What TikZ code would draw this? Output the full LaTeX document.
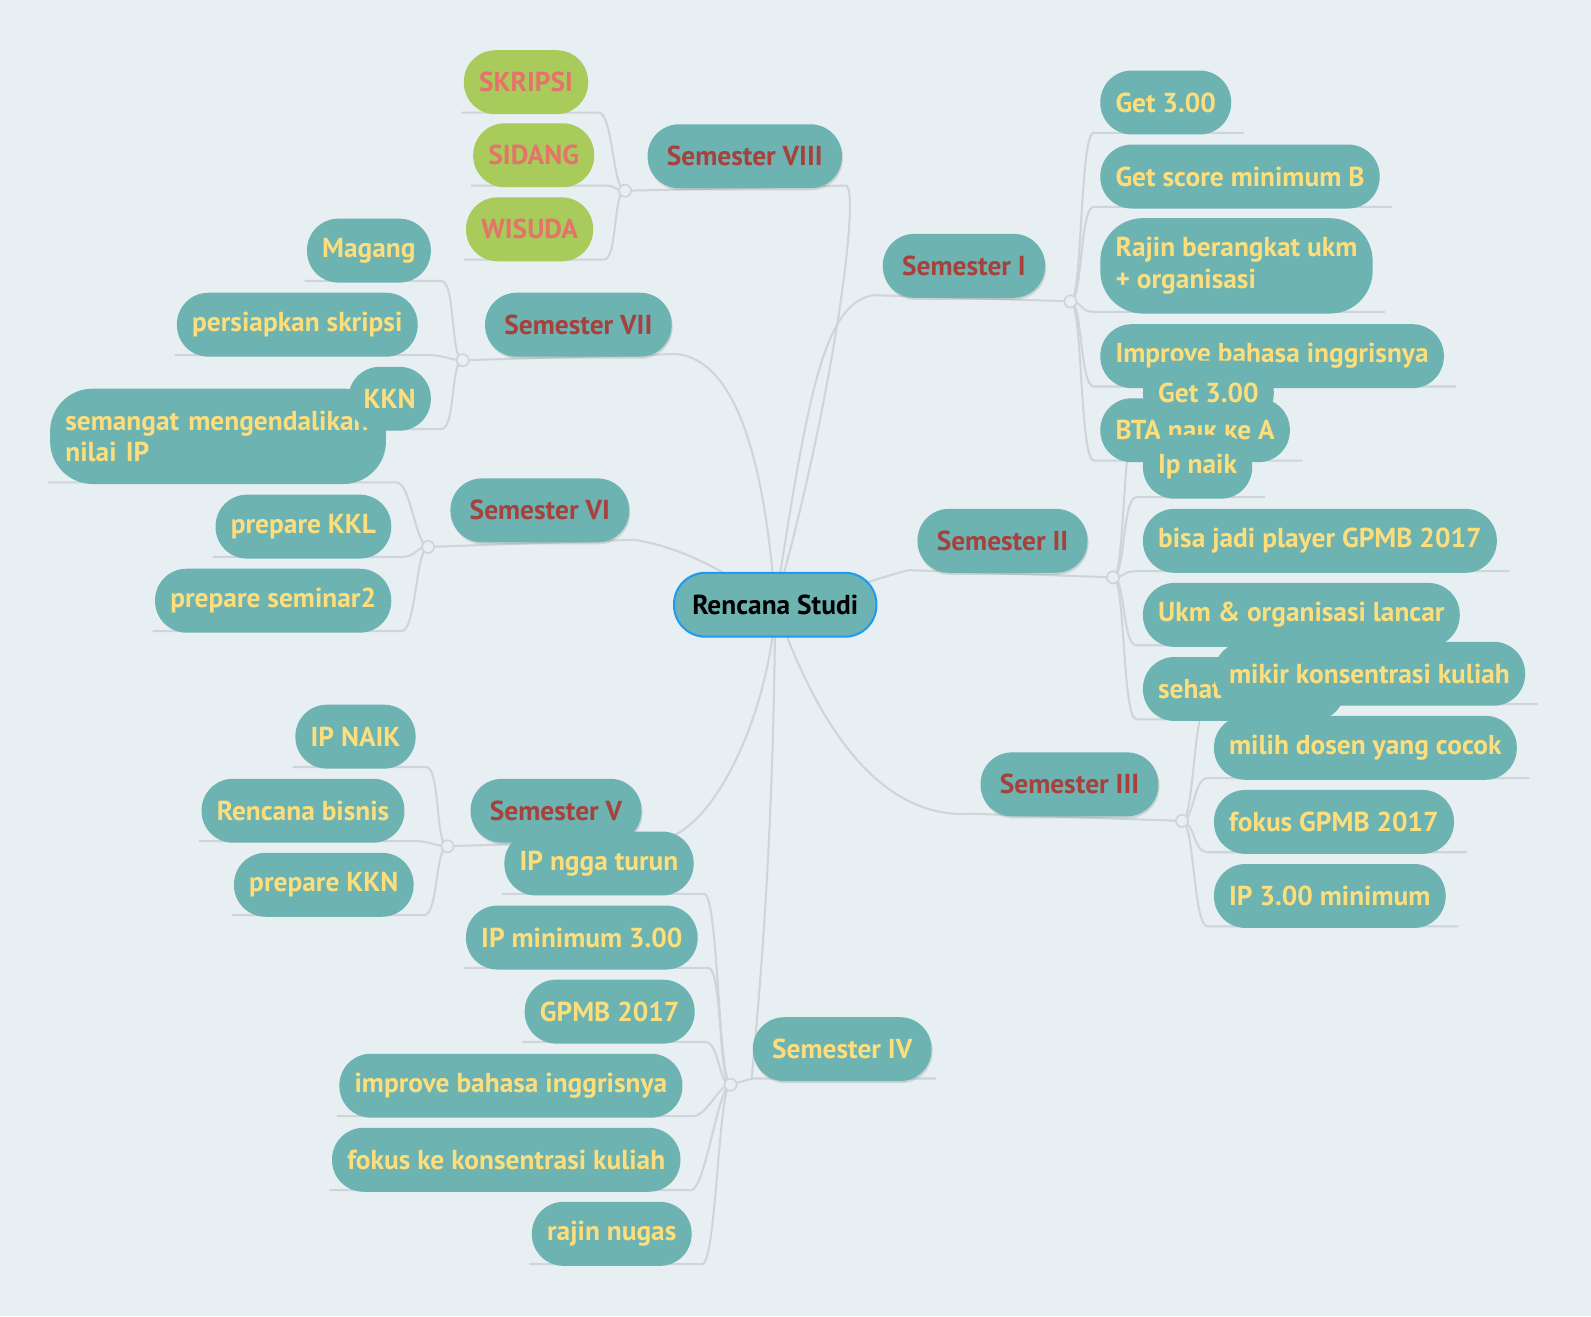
\documentclass[tikz,border=0pt]{standalone}
\usepackage{fontspec}
\setmainfont{PT Sans}
\usepackage{tikz}
\usetikzlibrary{shadows}

\definecolor{bgcol}{RGB}{231,239,242}
\definecolor{nodeteal}{RGB}{108,179,178}
\definecolor{leafyel}{RGB}{253,222,125}
\definecolor{semred}{RGB}{166,65,59}
\definecolor{leafgreen}{RGB}{168,203,92}
\definecolor{pinktext}{RGB}{230,114,108}
\definecolor{linegray}{RGB}{206,212,216}
\definecolor{rootblue}{RGB}{30,155,240}

\pgfdeclarelayer{back}
\pgfdeclarelayer{lines}
\pgfsetlayers{back,lines,main}

\begin{document}
\begin{tikzpicture}[x=0.5pt,y=0.5pt,yscale=-1,
    pill/.style={fill=nodeteal, rounded corners=15.5pt, minimum height=31.5pt, inner xsep=7.5pt, inner ysep=0pt, font=\bfseries\fontsize{13.5}{15.5}\selectfont},
    leaf/.style={pill, text=leafyel},
    tall/.style={minimum height=47pt, rounded corners=21pt, align=left},
    greenleaf/.style={pill, fill=leafgreen, text=pinktext},
    sem/.style={pill, inner xsep=9.5pt, text=semred, drop shadow={shadow xshift=0.5pt, shadow yshift=-1pt, opacity=0.25, fill=gray}},
    root/.style={pill, inner xsep=9pt, draw=rootblue, line width=1pt, text=black},
    branch/.style={draw=linegray, line width=1pt},
    junc/.style={circle, draw=linegray, fill=bgcol, line width=0.8pt, inner sep=0pt, minimum size=6pt}]

\begin{pgfonlayer}{back}
\fill[bgcol] (0,0) rectangle (1568,1297);
\end{pgfonlayer}
\useasboundingbox (0,0) rectangle (1568,1297);

\node[root] (root) at (764,596) {Rencana Studi};

% Semester I
\node[sem] (s1) at (950,262) {Semester I};
\node[leaf,anchor=west] (s1a) at (1084,101) {Get 3.00};
\node[leaf,anchor=west] (s1b) at (1084,174) {Get score minimum B};
\node[leaf,tall,anchor=west] (s1c) at (1084,262) {Rajin berangkat ukm\\+ organisasi};
\node[leaf,anchor=west] (s1d) at (1084,351) {Improve bahasa inggrisnya};
\node[leaf,anchor=west] (s1e) at (1084,424) {BTA naik ke A};
\node[junc] (j1) at (1055,297) {};

% Semester II
\node[sem] (s2) at (988,533) {Semester II};
\node[leaf,anchor=west] (s2a) at (1126,387) {Get 3.00};
\node[leaf,anchor=west] (s2b) at (1126,460) {Ip naik};
\node[leaf,anchor=west] (s2c) at (1126,533) {bisa jadi player GPMB 2017};
\node[leaf,anchor=west] (s2d) at (1126,606) {Ukm \& organisasi lancar};
\node[leaf,anchor=west,text width=84.5pt,align=left] (s2e) at (1126,679) {sehat};
\node[junc] (j2) at (1097,569) {};

% Semester III
\node[sem] (s3) at (1054,773) {Semester III};
\node[leaf,anchor=west] (s3a) at (1196,664) {mikir konsentrasi kuliah};
\node[leaf,anchor=west] (s3b) at (1196,737) {milih dosen yang cocok};
\node[leaf,anchor=west] (s3c) at (1196,810) {fokus GPMB 2017};
\node[leaf,anchor=west] (s3d) at (1196,883) {IP 3.00 minimum};
\node[junc] (j3) at (1165,809) {};

% Semester V
\node[sem] (s5) at (548,799) {Semester V};
\node[leaf,anchor=east] (s5a) at (410,726) {IP NAIK};
\node[leaf,anchor=east] (s5b) at (399,799) {Rencana bisnis};
\node[leaf,anchor=east] (s5c) at (408,872) {prepare KKN};
\node[junc] (j5) at (441,834) {};

% Semester IV
\node[sem,text=leafyel] (s4) at (830,1034) {Semester IV};
\node[leaf,anchor=east] (s4a) at (684,851) {IP ngga turun};
\node[leaf,anchor=east] (s4b) at (688,924) {IP minimum 3.00};
\node[leaf,anchor=east] (s4c) at (685,997) {GPMB 2017};
\node[leaf,anchor=east] (s4d) at (673,1070) {improve bahasa inggrisnya};
\node[leaf,anchor=east] (s4e) at (671,1143) {fokus ke konsentrasi kuliah};
\node[leaf,anchor=east] (s4f) at (682,1216) {rajin nugas};
\node[junc] (j4) at (720,1069) {};

% Semester VI
\node[sem] (s6) at (532,503) {Semester VI};
\node[leaf,tall,anchor=west,text width=150.5pt] (s6a) at (49,430) {\mbox{semangat mengendalikan}\\nilai IP};
\node[leaf,anchor=east] (s6b) at (386,519) {prepare KKL};
\node[leaf,anchor=east] (s6c) at (386,592) {prepare seminar2};
\node[junc] (j6) at (422,539) {};

% Semester VII
\node[sem] (s7) at (570,320) {Semester VII};
\node[leaf,anchor=east] (s7a) at (425,247) {Magang};
\node[leaf,anchor=east] (s7b) at (412,320) {persiapkan skripsi};
\node[leaf,anchor=east] (s7c) at (425,393) {KKN};
\node[junc] (j7) at (456,355) {};

% Semester VIII
\node[sem] (s8) at (734,154) {Semester VIII};
\node[greenleaf,anchor=east] (s8a) at (580,81) {SKRIPSI};
\node[greenleaf,anchor=east] (s8b) at (586,153) {SIDANG};
\node[greenleaf,anchor=east] (s8c) at (585,226) {WISUDA};
\node[junc] (j8) at (616,188) {};

\begin{pgfonlayer}{lines}
\draw[branch] (root.center) .. controls (795,400) and (810,297) .. ([xshift=-4pt,yshift=-1.5pt]s1.south west) -- (j1.center);
\draw[branch] (root.center) .. controls (830,585) and (865,569) .. ([xshift=-4pt,yshift=-1.5pt]s2.south west) -- (j2.center);
\draw[branch] (root.center) .. controls (800,700) and (860,809) .. ([xshift=-4pt,yshift=-1.5pt]s3.south west) -- (j3.center);
\draw[branch] (root.center) .. controls (762,900) and (738,1069) .. ([yshift=-1.5pt]s4.south west) -- ([xshift=2pt,yshift=-1.5pt]s4.south east);
\draw[branch] (j4.center) -- ([yshift=-1.5pt]s4.south west);
\draw[branch] (root.center) .. controls (760,700) and (700,834) .. ([xshift=4pt,yshift=-1.5pt]s5.south east) -- (j5.center);
\draw[branch] (root.center) .. controls (710,560) and (670,539) .. ([xshift=2pt,yshift=-1.5pt]s6.south east) -- (j6.center);
\draw[branch] (root.center) .. controls (755,470) and (730,355) .. ([xshift=2pt,yshift=-1.5pt]s7.south east) -- (j7.center);
\draw[branch] (root.center) .. controls (820,400) and (848,190) .. ([xshift=2pt,yshift=-1.5pt]s8.south east) -- (j8.center);

% right side leaves
\foreach \n in {s1a,s1b,s1c,s1d,s1e}
    \draw[branch] (j1.center) .. controls +(12,0) and +(-14,0) .. ([xshift=-3pt,yshift=-1pt]\n.south west) -- ([xshift=6pt,yshift=-1pt]\n.south east);
\foreach \n in {s2a,s2b,s2c,s2d,s2e}
    \draw[branch] (j2.center) .. controls +(12,0) and +(-14,0) .. ([xshift=-3pt,yshift=-1pt]\n.south west) -- ([xshift=6pt,yshift=-1pt]\n.south east);
\foreach \n in {s3a,s3b,s3c,s3d}
    \draw[branch] (j3.center) .. controls +(12,0) and +(-14,0) .. ([xshift=-3pt,yshift=-1pt]\n.south west) -- ([xshift=6pt,yshift=-1pt]\n.south east);

% left side leaves
\foreach \n in {s4a,s4b,s4c,s4d,s4e,s4f}
    \draw[branch] (j4.center) .. controls +(-12,0) and +(14,0) .. ([xshift=5pt,yshift=-1pt]\n.south east) -- ([xshift=-1pt,yshift=-1pt]\n.south west);
\foreach \n in {s5a,s5b,s5c}
    \draw[branch] (j5.center) .. controls +(-12,0) and +(14,0) .. ([xshift=5pt,yshift=-1pt]\n.south east) -- ([xshift=-1pt,yshift=-1pt]\n.south west);
\foreach \n in {s6a,s6b,s6c}
    \draw[branch] (j6.center) .. controls +(-12,0) and +(14,0) .. ([xshift=5pt,yshift=-1pt]\n.south east) -- ([xshift=-1pt,yshift=-1pt]\n.south west);
\foreach \n in {s7a,s7b,s7c}
    \draw[branch] (j7.center) .. controls +(-12,0) and +(14,0) .. ([xshift=5pt,yshift=-1pt]\n.south east) -- ([xshift=-1pt,yshift=-1pt]\n.south west);
\foreach \n in {s8a,s8b,s8c}
    \draw[branch] (j8.center) .. controls +(-12,0) and +(14,0) .. ([xshift=5pt,yshift=-1pt]\n.south east) -- ([xshift=-1pt,yshift=-1pt]\n.south west);
\end{pgfonlayer}

\end{tikzpicture}
\end{document}
